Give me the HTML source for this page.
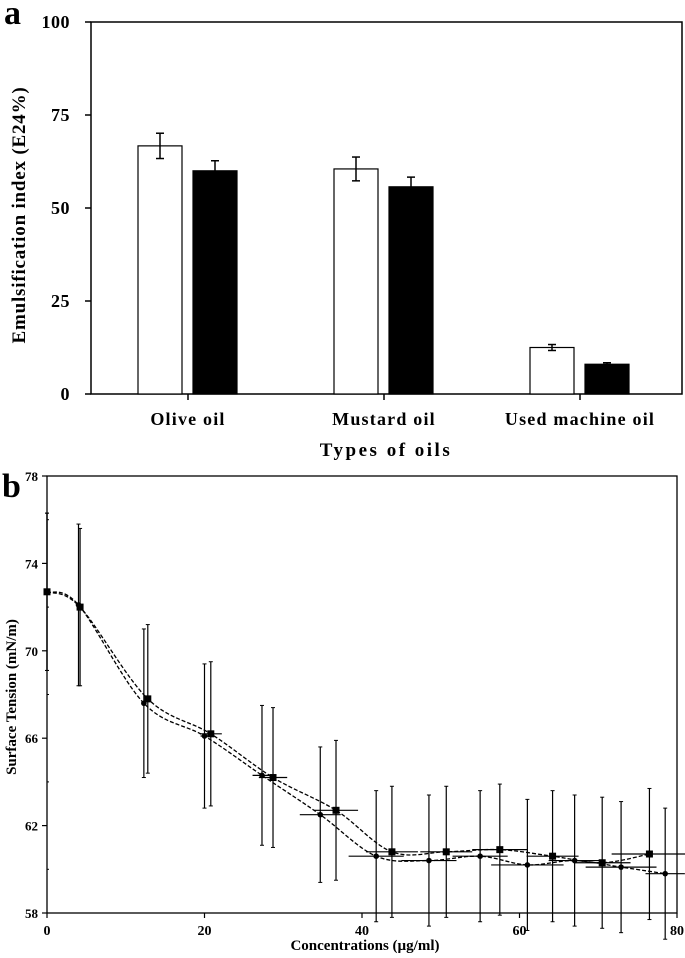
<!DOCTYPE html>
<html><head><meta charset="utf-8"><style>
body{margin:0;background:#fff;}
svg{display:block;font-family:"Liberation Serif",serif;font-weight:bold;}
</style></head><body>
<svg id="s" width="685" height="958" viewBox="0 0 685 958">
<text x="4" y="24" font-size="34">a</text>
<text x="2" y="497" font-size="34">b</text>
<g id="ga"></g>
<g id="gb"></g>
</svg>
<script>
const NS='http://www.w3.org/2000/svg';
function mk(p,t,a){const e=document.createElementNS(NS,t);for(const k in a)e.setAttribute(k,a[k]);p.appendChild(e);return e;}
// Panel a data
const categories=['Olive oil','Mustard oil','Used machine oil'];
const whiteVals=[66.7,60.5,12.5];
const whiteErr=[3.4,3.2,0.8];
const blackVals=[60,55.7,8];
const blackErr=[2.7,2.6,0.4];
const aTicks=[0,25,50,75,100];
// Panel b data
const xSq=[0,4.2,12.8,20.8,28.7,36.7,43.8,50.7,57.5,64.2,70.5,76.5];
const ySq=[72.7,72.0,67.8,66.2,64.2,62.7,60.8,60.8,60.9,60.6,60.3,60.7];
const eSq=[3.6,3.6,3.4,3.3,3.2,3.2,3.0,3.0,3.0,3.0,3.0,3.0];
const hSq=[0,0,0.4,1.4,1.8,2.8,3.3,3.3,3.5,3.3,3.6,4.8];
const xCi=[0,4.0,12.3,20.0,27.3,34.7,41.8,48.5,55.0,61.0,67.0,72.9,78.5];
const yCi=[72.7,72.1,67.6,66.1,64.3,62.5,60.6,60.4,60.6,60.2,60.4,60.1,59.8];
const eCi=[3.6,3.7,3.4,3.3,3.2,3.1,3.0,3.0,3.0,3.0,3.0,3.0,3.0];
const hCi=[0,0,0.3,0.5,1.2,2.6,3.5,3.5,3.5,4.6,3.3,4.5,2.5];
const bXTicks=[0,20,40,60,80];
const bYTicks=[58,62,66,70,74,78];

// ---- panel a
const ga=document.getElementById('ga');
const ay=v=>394-v*3.72, ax=i=>188+i*196;
let e;
e=mk(ga,'rect',{x:91,y:22,width:591,height:372,fill:'none',stroke:'#000','stroke-width':1.5});

aTicks.forEach(t=>{
 mk(ga,'line',{x1:85,x2:91,y1:ay(t),y2:ay(t),stroke:'#000','stroke-width':1.5});
 e=mk(ga,'text',{x:70,y:ay(t)+6,'font-size':18,'text-anchor':'end','letter-spacing':'0.5'});e.textContent=t;
 
});
categories.forEach((c,i)=>{
 const cx=ax(i);
 mk(ga,'line',{x1:cx,x2:cx,y1:394,y2:400,stroke:'#000','stroke-width':1.5});
 e=mk(ga,'text',{x:cx,y:425,'font-size':18,'text-anchor':'middle','letter-spacing':'1.2'});e.textContent=c;
 
 [[whiteVals,whiteErr,'#fff',-50],[blackVals,blackErr,'#000',5]].forEach(([v,er,f,off])=>{
  e=mk(ga,'rect',{x:cx+off,y:ay(v[i]),width:44,height:394-ay(v[i]),fill:f,stroke:'#000','stroke-width':1.2});
  
  const bx=cx+off+22;
  mk(ga,'line',{x1:bx,x2:bx,y1:ay(v[i]+er[i]),y2:ay(v[i]-er[i]),stroke:'#000','stroke-width':1.5});
  mk(ga,'line',{x1:bx-4,x2:bx+4,y1:ay(v[i]+er[i]),y2:ay(v[i]+er[i]),stroke:'#000','stroke-width':1.5});
  if(f!='#000')mk(ga,'line',{x1:bx-4,x2:bx+4,y1:ay(v[i]-er[i]),y2:ay(v[i]-er[i]),stroke:'#000','stroke-width':1.5});
 });
});
e=mk(ga,'text',{x:386,y:456,'font-size':19,'text-anchor':'middle','letter-spacing':'2.5'});e.textContent='Types of oils';

e=mk(ga,'text',{x:0,y:0,'font-size':19,'text-anchor':'middle','letter-spacing':'0.8',transform:'translate(25,215) rotate(-90)'});e.textContent='Emulsification index (E24%)';


// ---- panel b
const gb=document.getElementById('gb');
const bx=v=>47+v*7.875, by=v=>913-(v-58)*21.85;
e=mk(gb,'rect',{x:47,y:476,width:630,height:437,fill:'none',stroke:'#000','stroke-width':1.3});

bYTicks.forEach(t=>{
 mk(gb,'line',{x1:42,x2:47,y1:by(t),y2:by(t),stroke:'#000','stroke-width':1.2});
 if(t<78)mk(gb,'line',{x1:47,x2:49,y1:by(t+2),y2:by(t+2),stroke:'#000','stroke-width':1});
 e=mk(gb,'text',{x:38,y:by(t)+5,'font-size':13,'text-anchor':'end'});e.textContent=t;
 
});
bXTicks.forEach(t=>{
 mk(gb,'line',{x1:bx(t),x2:bx(t),y1:913,y2:918,stroke:'#000','stroke-width':1.2});
 e=mk(gb,'text',{x:bx(t),y:935,'font-size':14,'text-anchor':'middle'});e.textContent=t;
 
});
e=mk(gb,'text',{x:365,y:950,'font-size':15,'text-anchor':'middle'});e.textContent='Concentrations (µg/ml)';

e=mk(gb,'text',{x:0,y:0,'font-size':15,'text-anchor':'middle',transform:'translate(16,697) rotate(-90)'});e.textContent='Surface Tension (mN/m)';

function smooth(xs,ys){
 const P=xs.map((x,i)=>[bx(x),by(ys[i])]);let d='M'+P[0];
 for(let i=0;i<P.length-1;i++){
  const p0=P[i-1]||P[i],p1=P[i],p2=P[i+1],p3=P[i+2]||p2;
  const c1=[p1[0]+(p2[0]-p0[0])/6,p1[1]+(p2[1]-p0[1])/6],c2=[p2[0]-(p3[0]-p1[0])/6,p2[1]-(p3[1]-p1[1])/6];
  d+='C'+c1+' '+c2+' '+p2;
 }return d;
}
[[xSq,ySq,eSq,hSq,'sq'],[xCi,yCi,eCi,hCi,'ci']].forEach(([xs,ys,es,hs,k])=>{
 e=mk(gb,'path',{d:smooth(xs,ys),fill:'none',stroke:'#000','stroke-width':1.3,'stroke-dasharray':'4,2'});
 
 xs.forEach((x,i)=>{
  const X=bx(x),Y=by(ys[i]);
  mk(gb,'line',{x1:X,x2:X,y1:by(ys[i]+es[i]),y2:by(ys[i]-es[i]),stroke:'#000','stroke-width':1.2});
  mk(gb,'line',{x1:X-2,x2:X+2,y1:by(ys[i]+es[i]),y2:by(ys[i]+es[i]),stroke:'#000','stroke-width':1});
  mk(gb,'line',{x1:X-2,x2:X+2,y1:by(ys[i]-es[i]),y2:by(ys[i]-es[i]),stroke:'#000','stroke-width':1});
  if(hs[i]>0)mk(gb,'line',{x1:bx(x-hs[i]),x2:bx(x+hs[i]),y1:Y,y2:Y,stroke:'#000','stroke-width':1.2});
  if(k=='sq'){e=mk(gb,'rect',{x:X-3.5,y:Y-3.5,width:7,height:7,fill:'#000'});}
  else{e=mk(gb,'circle',{cx:X,cy:Y,r:2.8,fill:'#000'});}
  
 });
});
</script>
</body></html>
